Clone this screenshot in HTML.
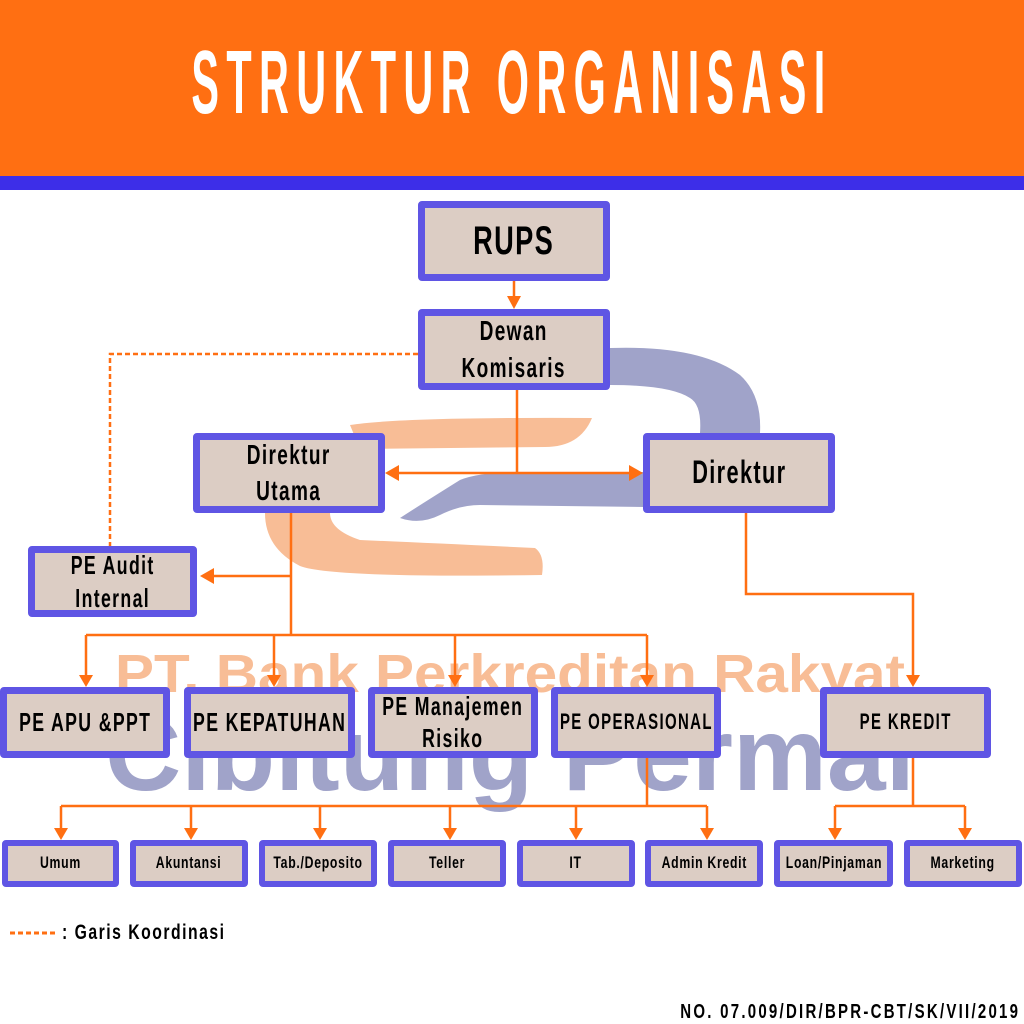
<!DOCTYPE html>
<html><head><meta charset="utf-8"><style>
body{margin:0;width:1024px;height:1024px;position:relative;background:#fff;overflow:hidden;font-family:"Liberation Sans",sans-serif;}
.hdr{position:absolute;left:0;top:0;width:1024px;height:176px;background:#ff6f12;}
.bar{position:absolute;left:0;top:176px;width:1024px;height:14px;background:#3d2ee8;}
.title{position:absolute;left:512px;top:28px;white-space:nowrap;color:#fff;font-weight:bold;font-size:90px;letter-spacing:16px;line-height:110px;transform:translateX(-50%) scaleX(0.46);}
.b{position:absolute;box-sizing:border-box;border:7px solid #5f55e4;border-radius:4px;background:#dccdc4;display:flex;align-items:center;justify-content:center;text-align:center;font-weight:bold;color:#000;letter-spacing:2px;line-height:1.3;white-space:nowrap;overflow:visible;}
.b span{display:inline-block;transform:scaleX(0.68);}
.s{border-width:6px;font-size:17px;letter-spacing:1px;}
.s span{transform:scaleX(0.72);}
svg{position:absolute;left:0;top:0;}
</style></head><body>
<div class="hdr"></div><div class="bar"></div>
<div class="title">STRUKTUR ORGANISASI</div>
<svg width="1024" height="1024">
<g fill="#f8bd96">
<path d="M350 425 Q400 417 592 418 Q580 447 545 447 L360 449 Z"/>
<path d="M265 513 Q265 548 300 566 Q330 578 542 575 Q545 555 535 548 Q430 543 360 540 Q330 530 330 513 Z"/>
</g>
<g fill="#a0a3c9">
<path d="M400 518 Q420 505 460 480 Q480 472 520 472 L645 472 L645 507 L480 505 Q460 505 440 515 Q420 525 400 518 Z"/>
<path d="M610 348 Q700 345 740 375 Q762 395 760 433 L700 433 Q702 405 690 398 Q670 385 610 385 Z"/>
</g>
<text x="115" y="692" font-family="Liberation Sans" font-weight="bold" font-size="54" fill="#f8bd96" textLength="790" lengthAdjust="spacingAndGlyphs">PT. Bank Perkreditan Rakyat</text>
<text x="105" y="790" font-family="Liberation Sans" font-weight="bold" font-size="104" fill="#a0a3c9" textLength="810" lengthAdjust="spacingAndGlyphs">Cibitung Permai</text>
<g stroke="#ff6f12" stroke-width="2.5" fill="none">
<path d="M514 281V296"/>
<path d="M517 390V473M396 473H632"/>
<path d="M291 513V635M291 576H212M86 635H647"/>
<path d="M86 635V676M274 635V676M455 635V676M647 635V676"/>
<path d="M647 758V806M61 806H707"/>
<path d="M61 806V829M191 806V829M320 806V829M450 806V829M576 806V829M707 806V829"/>
<path d="M746 513V594H913V676"/>
<path d="M913 758V806M835 806H965M835 806V829M965 806V829"/>
<path d="M418 354H110V546" stroke-dasharray="5,3"/>
<path d="M10 933H55" stroke-dasharray="5,3" stroke-width="3"/>
</g>
<g fill="#ff6f12">
<path d="M507 296h14l-7 13z"/>
<path d="M385 473l14-8v16z"/><path d="M643 473l-14-8v16z"/>
<path d="M200 576l14-8v16z"/>
<path d="M79 675h14l-7 12z"/><path d="M267 675h14l-7 12z"/><path d="M448 675h14l-7 12z"/><path d="M640 675h14l-7 12z"/><path d="M906 675h14l-7 12z"/>
<path d="M54 828h14l-7 12z"/><path d="M184 828h14l-7 12z"/><path d="M313 828h14l-7 12z"/><path d="M443 828h14l-7 12z"/><path d="M569 828h14l-7 12z"/><path d="M700 828h14l-7 12z"/><path d="M828 828h14l-7 12z"/><path d="M958 828h14l-7 12z"/>
</g>
</svg>
<div class="b" style="left:418px;top:201px;width:192px;height:80px;font-size:40px;"><span>RUPS</span></div>
<div class="b" style="left:418px;top:309px;width:192px;height:81px;font-size:28px;"><span>Dewan<br>Komisaris</span></div>
<div class="b" style="left:193px;top:433px;width:192px;height:80px;font-size:28px;"><span>Direktur<br>Utama</span></div>
<div class="b" style="left:643px;top:433px;width:192px;height:80px;font-size:32px;"><span>Direktur</span></div>
<div class="b" style="left:28px;top:546px;width:169px;height:71px;font-size:26px;line-height:1.25;"><span>PE Audit<br>Internal</span></div>
<div class="b" style="left:0px;top:687px;width:170px;height:71px;font-size:26px;"><span>PE APU &amp;PPT</span></div>
<div class="b" style="left:184px;top:687px;width:171px;height:71px;font-size:26px;"><span>PE KEPATUHAN</span></div>
<div class="b" style="left:368px;top:687px;width:170px;height:71px;font-size:26px;line-height:1.2;"><span>PE Manajemen<br>Risiko</span></div>
<div class="b" style="left:551px;top:687px;width:170px;height:71px;font-size:22px;"><span>PE OPERASIONAL</span></div>
<div class="b" style="left:820px;top:687px;width:171px;height:71px;font-size:22px;"><span>PE KREDIT</span></div>
<div class="b s" style="left:2px;top:840px;width:117px;height:47px;"><span>Umum</span></div>
<div class="b s" style="left:130px;top:840px;width:118px;height:47px;"><span>Akuntansi</span></div>
<div class="b s" style="left:259px;top:840px;width:118px;height:47px;"><span>Tab./Deposito</span></div>
<div class="b s" style="left:388px;top:840px;width:118px;height:47px;"><span>Teller</span></div>
<div class="b s" style="left:517px;top:840px;width:118px;height:47px;"><span>IT</span></div>
<div class="b s" style="left:645px;top:840px;width:118px;height:47px;"><span>Admin Kredit</span></div>
<div class="b s" style="left:774px;top:840px;width:119px;height:47px;"><span>Loan/Pinjaman</span></div>
<div class="b s" style="left:904px;top:840px;width:118px;height:47px;"><span>Marketing</span></div>
<div style="position:absolute;left:62px;top:921px;font-size:21px;font-weight:bold;letter-spacing:2px;white-space:nowrap;transform:scaleX(0.75);transform-origin:left;">: Garis Koordinasi</div>
<div style="position:absolute;right:4px;top:1001px;font-size:20px;font-weight:bold;letter-spacing:3px;white-space:nowrap;transform:scaleX(0.75);transform-origin:right;">NO. 07.009/DIR/BPR-CBT/SK/VII/2019</div>
</body></html>
